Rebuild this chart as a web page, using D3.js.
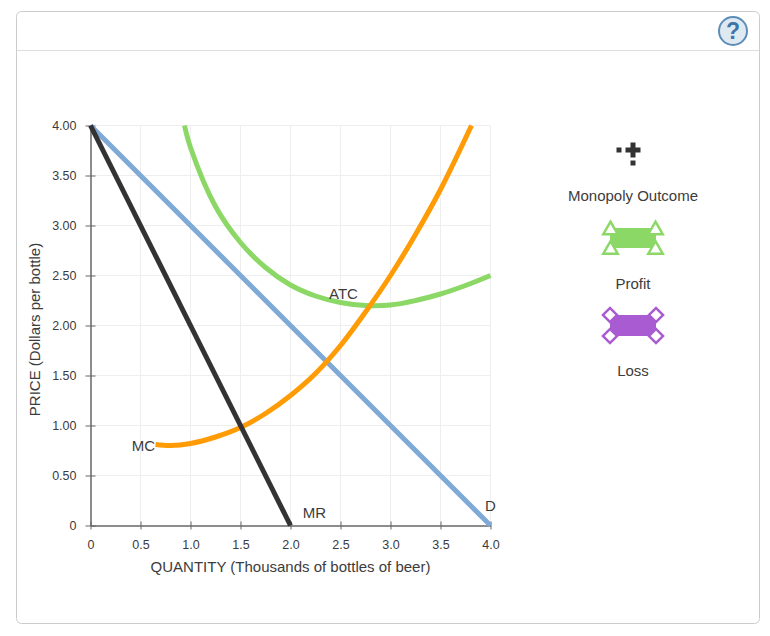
<!DOCTYPE html>
<html>
<head>
<meta charset="utf-8">
<script src="https://cdn.jsdelivr.net/npm/d3@7"></script>
<style>
  html, body { margin: 0; padding: 0; background: #fff; }
  svg { display: block; }
  text { font-family: "Liberation Sans", Arial, sans-serif; fill: #3c3c3c; }
</style>
</head>
<body>
<div id="chart"></div>
<script>
// values
var xTicks = [0, 0.5, 1, 1.5, 2, 2.5, 3, 3.5, 4];
var xTickLabels = ["0", "0.5", "1.0", "1.5", "2.0", "2.5", "3.0", "3.5", "4.0"];
var yTicks = [0, 0.5, 1, 1.5, 2, 2.5, 3, 3.5, 4];
var yTickLabels = ["0", "0.50", "1.00", "1.50", "2.00", "2.50", "3.00", "3.50", "4.00"];

var demand = [[0, 4], [4, 0]];
var marginalRevenue = [[0, 4], [2, 0]];
var marginalCost = [[0.65, 0.81], [0.8, 0.8], [1, 0.82], [1.25, 0.885], [1.5, 0.98], [1.75, 1.12], [2, 1.3], [2.25, 1.52], [2.5, 1.8], [2.75, 2.135], [3, 2.5], [3.25, 2.91], [3.5, 3.36], [3.81, 4]];
var averageCost = [[0.94, 4], [1, 3.78], [1.25, 3.19], [1.5, 2.83], [1.75, 2.58], [2, 2.405], [2.25, 2.295], [2.5, 2.23], [2.75, 2.2], [3, 2.205], [3.25, 2.25], [3.5, 2.315], [3.75, 2.4], [4, 2.5]];

var curveLabels = ["MC", "ATC", "MR", "D"];
var curveLabelQ = [0.53, 2.53, 2.24, 4];
var curveLabelP = [0.75, 2.27, 0.08, 0.15];

var legendNames = ["Monopoly Outcome", "Profit", "Loss"];

var width = 770, height = 636;
var svg = d3.select("#chart").append("svg").attr("width", width).attr("height", height);

// card
svg.append("rect").attr("x", 16.5).attr("y", 11.5).attr("width", 743).attr("height", 612)
    .attr("rx", 5).attr("fill", "#fff").attr("stroke", "#ccc");
svg.append("line").attr("x1", 17).attr("x2", 759).attr("y1", 50.5).attr("y2", 50.5).attr("stroke", "#ddd");

// help button
svg.append("circle").attr("cx", 733).attr("cy", 31).attr("r", 14)
    .attr("fill", "#dfe9f2").attr("stroke", "#5c8db8").attr("stroke-width", 2);
svg.append("text").attr("x", 733).attr("y", 39).attr("text-anchor", "middle")
    .style("font-size", "23px").style("font-weight", "bold").style("fill", "#3f76a8").text("?");

var x = d3.scaleLinear().domain([0, 4]).range([90.5, 490.5]);
var y = d3.scaleLinear().domain([0, 4]).range([525.5, 125.5]);

// grid
svg.append("g").selectAll("line").data(xTicks.slice(1)).join("line")
    .attr("x1", x).attr("x2", x).attr("y1", y(0)).attr("y2", y(4))
    .attr("stroke", "#eee");
svg.append("g").selectAll("line").data(yTicks.slice(1)).join("line")
    .attr("x1", x(0)).attr("x2", x(4)).attr("y1", y).attr("y2", y)
    .attr("stroke", "#eee");

// axes
var xAxis = d3.axisBottom(x).tickValues(xTicks).tickFormat(function (d, i) { return xTickLabels[i]; })
    .tickSizeInner(4).tickSizeOuter(0).tickPadding(11);
var yAxis = d3.axisLeft(y).tickValues(yTicks).tickFormat(function (d, i) { return yTickLabels[i]; })
    .tickSizeInner(5).tickSizeOuter(0).tickPadding(9);

var gx = svg.append("g").attr("transform", "translate(0," + y(0) + ")").call(xAxis);
var gy = svg.append("g").attr("transform", "translate(" + x(0) + ",0)").call(yAxis);

// ticks go both sides of the axis line
gx.selectAll(".tick line").attr("y1", -4).attr("y2", 4);
gy.selectAll(".tick line").attr("x1", -5).attr("x2", 5);
[gx, gy].forEach(function (g) {
    g.selectAll("path, line").attr("stroke", "#666");
    g.select("path").attr("stroke-width", 1.5);
    g.selectAll("text").style("font-size", "12.5px").style("font-family", "Liberation Sans").attr("fill", "#3c3c3c");
});

svg.append("text").attr("x", 290.5).attr("y", 572).attr("text-anchor", "middle")
    .style("font-size", "15px").text("QUANTITY (Thousands of bottles of beer)");
svg.append("text").attr("transform", "translate(40,329.5) rotate(-90)").attr("text-anchor", "middle")
    .style("font-size", "15px").text("PRICE (Dollars per bottle)");

// curves
var line = d3.line().x(function (d) { return x(d[0]); }).y(function (d) { return y(d[1]); });
var smooth = d3.line().x(function (d) { return x(d[0]); }).y(function (d) { return y(d[1]); })
    .curve(d3.curveCatmullRom.alpha(0.5));

function drawCurve(values, color, gen) {
    svg.append("path").datum(values).attr("d", gen).attr("fill", "none")
        .attr("stroke", color).attr("stroke-width", 5);
}
drawCurve(averageCost, "#8bd866", smooth);
drawCurve(demand, "#7fa9d6", line);
drawCurve(marginalCost, "#ff9b05", smooth);
drawCurve(marginalRevenue, "#333", line);

svg.append("g").selectAll("text").data(curveLabels).join("text")
    .attr("x", function (d, i) { return x(curveLabelQ[i]); })
    .attr("y", function (d, i) { return y(curveLabelP[i]); })
    .attr("text-anchor", "middle")
    .style("font-size", "15px")
    .text(function (d) { return d; });

// legend
var legendX = 633;
svg.append("g").selectAll("text").data(legendNames).join("text")
    .attr("x", legendX)
    .attr("y", function (d, i) { return [201, 289, 376][i]; })
    .attr("text-anchor", "middle")
    .style("font-size", "15px")
    .text(function (d) { return d; });

// monopoly outcome icon
var outcome = svg.append("g").attr("fill", "#333");
outcome.append("path").attr("transform", "translate(633,150)")
    .attr("d", d3.symbol().type(d3.symbolCross).size(125)());
outcome.append("rect").attr("x", 616.5).attr("y", 147.5).attr("width", 5).attr("height", 5);
outcome.append("rect").attr("x", 630.5).attr("y", 160.5).attr("width", 5).attr("height", 5);

// profit icon
var profitColor = "#8bd866";
svg.append("rect").attr("x", 610).attr("y", 228).attr("width", 46).attr("height", 20).attr("fill", profitColor);
[[610.5, 230], [655.5, 230], [610.5, 249.5], [655.5, 249.5]].forEach(function (p) {
    svg.append("path").attr("transform", "translate(" + p[0] + "," + p[1] + ")")
        .attr("d", d3.symbol().type(d3.symbolTriangle).size(90)())
        .attr("fill", "#fff").attr("stroke", profitColor).attr("stroke-width", 2.5);
});

// loss icon
var lossColor = "#a95cd1";
svg.append("rect").attr("x", 610).attr("y", 315).attr("width", 46).attr("height", 21).attr("fill", lossColor);
[[610, 315], [656, 315], [610, 336], [656, 336]].forEach(function (p) {
    svg.append("rect").attr("transform", "translate(" + p[0] + "," + p[1] + ") rotate(45)")
        .attr("x", -5).attr("y", -5).attr("width", 10).attr("height", 10)
        .attr("fill", "#fff").attr("stroke", lossColor).attr("stroke-width", 2.5);
});
</script>
</body>
</html>
